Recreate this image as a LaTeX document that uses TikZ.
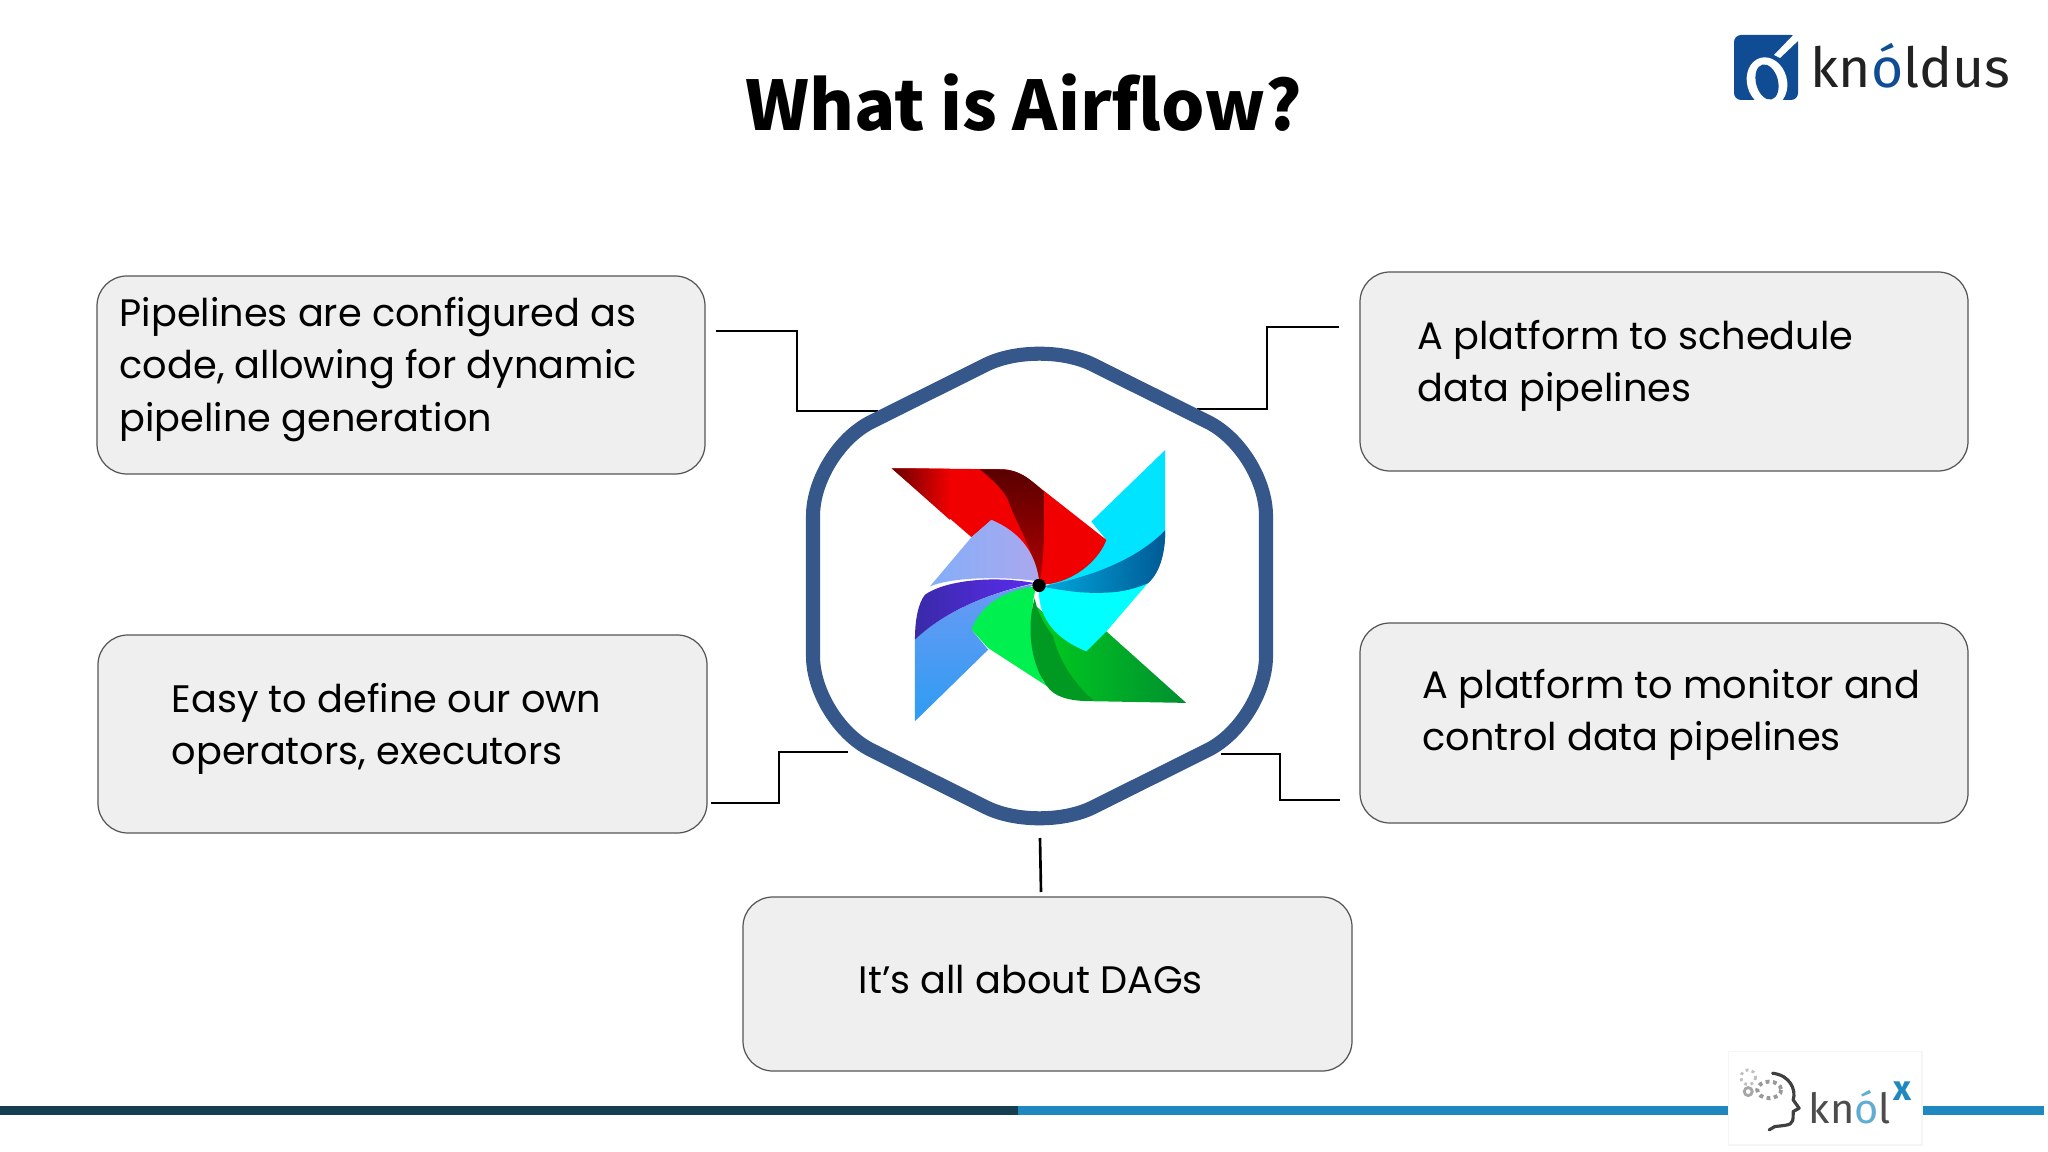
\documentclass[tikz,border=0pt]{standalone}
\usepackage{fontspec}
\setmainfont{Poppins}
\newfontfamily\titlefont{Noto Sans CJK SC}
\newfontfamily\logofont{Fira Sans}
\definecolor{boxfill}{HTML}{EFEFF0}
\definecolor{boxline}{HTML}{555555}
\definecolor{hexblue}{HTML}{35578A}
\definecolor{logoblue}{HTML}{0F4C93}
\definecolor{logodark}{HTML}{222222}
\definecolor{barblue}{HTML}{1E88BF}
\definecolor{bardark}{HTML}{153E53}
\definecolor{pwRed}{HTML}{F00000}
\definecolor{pwRedTip}{HTML}{6A0000}
\definecolor{pwRedDarkA}{HTML}{5A0000}
\definecolor{pwRedDarkB}{HTML}{B00000}
\definecolor{pwCyanTop}{HTML}{00E4FF}
\definecolor{pwCyanLow}{HTML}{00FFFF}
\definecolor{pwBandA}{HTML}{00A8DC}
\definecolor{pwBandB}{HTML}{005A96}
\definecolor{pwPeriA}{HTML}{83AEF9}
\definecolor{pwPeriB}{HTML}{ABA8EE}
\definecolor{pwPurpA}{HTML}{3A2AA8}
\definecolor{pwPurpB}{HTML}{5B2BF0}
\definecolor{pwBlueA}{HTML}{6A9AF5}
\definecolor{pwBlueB}{HTML}{2E9CF2}
\definecolor{pwGreenBright}{HTML}{00F050}
\definecolor{pwGreenDark}{HTML}{009A22}
\definecolor{pwGreenMid}{HTML}{00CC1E}
\definecolor{pwGreenTip}{HTML}{008F30}
\tikzset{
  infobox/.style={draw=boxline,line width=0.35pt,fill=boxfill,rounded corners=8.5pt},
  infotext/.style={anchor=west,align=left,inner sep=0pt,text=black,font=\fontsize{10.88}{14.85}\selectfont},
  conn/.style={draw=black,line width=0.75pt},
}
\begin{document}
\begin{tikzpicture}[x=0.01cm,y=-0.01cm]
\useasboundingbox (0,0) rectangle (2048,1152);
\fill[white] (0,0) rectangle (2048,1152);
% title
\node[anchor=base,inner sep=0pt,font=\titlefont\bfseries\fontsize{19.45}{24}\selectfont] (title) at (1024,131) {What is Airflow?};
% boxes
\path[infobox] (97,276) rectangle (705,474) coordinate (boxTL);
\path[infobox] (1360,272) rectangle (1968,471) coordinate (boxTR);
\path[infobox] (98,635) rectangle (707,833) coordinate (boxML);
\path[infobox] (1360,623) rectangle (1968,823) coordinate (boxMR);
\path[infobox] (743,897) rectangle (1352,1071) coordinate (boxB);
% texts
\node[infotext] (tTL) at (119,369.5) {Pipelines are configured as\\code, allowing for dynamic\\pipeline generation};
\node[infotext] (tTR) at (1417,366) {A platform to schedule\\data pipelines};
\node[infotext] (tML) at (171,728.5) {Easy to define our own\\operators, executors};
\node[infotext] (tMR) at (1422,715) {A platform to monitor and\\control data pipelines};
\node[infotext] (tB) at (858,980) {It’s all about DAGs};
% connectors
\coordinate (a1) at (716,331); \coordinate (m1) at (797,411); \coordinate (b1) at (878,411);
\coordinate (a2) at (1339,327); \coordinate (m2) at (1267,409); \coordinate (b2) at (1197,409);
\coordinate (a3) at (711,803); \coordinate (m3) at (779,752); \coordinate (b3) at (848,752);
\coordinate (a4) at (1340,800); \coordinate (m4) at (1280,754); \coordinate (b4) at (1221,754);
\coordinate (a5) at (1040,838); \coordinate (b5) at (1041,892);
\draw[conn] (a1) -| (m1) -- (b1);
\draw[conn] (a2) -| (m2) -- (b2);
\draw[conn] (a3) -| (m3) -- (b3);
\draw[conn] (a4) -| (m4) -- (b4);
\draw[conn] (a5) -- (b5);
% hexagon
\draw[hexblue,line width=4pt,fill=white] (985.8,364.8) .. controls (1015.3,350) and (1063.7,350) .. (1093.2,364.8)
 -- (1207.9,422) .. controls (1239.9,438) and (1266,480.2) .. (1266,516)
 -- (1266,656) .. controls (1266,691.8) and (1239.9,734) .. (1207.9,750)
 -- (1093.2,807.2) .. controls (1063.7,822) and (1015.3,822) .. (985.8,807.2)
 -- (871.1,750) .. controls (839.1,734) and (813,691.8) .. (813,656)
 -- (813,516) .. controls (813,480.2) and (839.1,438) .. (871.1,422) -- cycle;
% pinwheel
\begin{scope}[shift={(880,440)},x=0.003333cm,y=-0.003333cm]
% blue blade
\shade[top color=pwBlueA,bottom color=pwBlueB]
 (105,845) -- (105,600) .. controls (200,510) and (330,460) .. (465,432) -- (275,570) -- (325,630) -- cycle;
% cyan top
\fill[pwCyanTop] (635,245) -- (857,30) -- (857,272) .. controls (770,360) and (640,410) .. (500,440) -- (680,300) -- cycle;
% cyan lower, under the band
\fill[pwCyanLow] (478,440) -- (805,425) -- (680,575) -- (620,635) .. controls (510,590) and (475,520) .. (478,440) -- cycle;
% blue band of cyan blade
\shade[left color=pwBandA,right color=pwBandB]
 (490,440) .. controls (640,410) and (770,360) .. (857,272) .. controls (857,340) and (840,400) .. (805,430)
 .. controls (720,470) and (600,465) .. (490,440) -- cycle;
% red blade
\fill[pwRed] (35,85) -- (370,88) .. controls (420,92) and (445,115) .. (470,135) -- (680,300)
 .. controls (665,345) and (600,425) .. (490,435) -- (400,300) -- (335,240) -- (275,292) -- cycle;
\shade[left color=pwRedTip,right color=pwRed] (35,85) -- (210,86) -- (210,240) -- cycle;
\shade[top color=pwRedDarkA,bottom color=pwRedDarkB]
 (300,88) -- (370,88) .. controls (420,92) and (445,115) .. (470,135) -- (492,155)
 .. controls (495,250) and (495,340) .. (480,425) .. controls (465,340) and (400,230) .. (385,180) .. controls (370,150) and (340,120) .. (300,88) -- cycle;
% periwinkle
\shade[left color=pwPeriA,right color=pwPeriB]
 (150,440) -- (275,292) -- (335,240) .. controls (430,280) and (470,350) .. (478,425) .. controls (380,410) and (220,410) .. (150,440) -- cycle;
% purple
\shade[right color=pwPurpB,left color=pwPurpA]
 (135,465) .. controls (190,425) and (330,405) .. (465,430)
 .. controls (330,460) and (200,510) .. (105,600) .. controls (105,540) and (115,490) .. (135,465) -- cycle;
% green
\shade[left color=pwGreenMid,right color=pwGreenTip] (470,500) -- (510,745) -- (645,785) -- (920,790) -- (680,575) -- (620,635) -- cycle;
\fill[pwGreenBright] (275,570) .. controls (300,500) and (370,450) .. (470,440) .. controls (450,500) and (450,620) .. (490,725) -- (510,745) -- (325,625) -- cycle;
\fill[pwGreenDark] (465,475) .. controls (440,560) and (450,680) .. (510,750) .. controls (540,780) and (590,785) .. (645,785)
 .. controls (590,740) and (540,670) .. (520,590) .. controls (490,550) and (470,510) .. (465,475) -- cycle;
% cyan lower again, above the green
\fill[pwCyanLow] (478,445) -- (720,460) -- (805,430) -- (680,575) -- (620,635) .. controls (510,590) and (475,520) .. (478,445) -- cycle;
\shade[left color=pwBandA,right color=pwBandB]
 (490,440) .. controls (640,410) and (770,360) .. (857,272) .. controls (857,340) and (840,400) .. (805,430)
 .. controls (720,470) and (600,465) .. (490,440) -- cycle;
\fill[black] (478,437) circle[radius=20];
\end{scope}
% bottom bar
\fill[bardark] (0,1106) rectangle (1018,1115);
\fill[barblue] (1018,1106) rectangle (1729,1115);
\fill[barblue] (1922,1106) rectangle (2044,1115);
% knoldus logo
\fill[logoblue,rounded corners=2pt] (1734,35) rectangle (1798,100);
\begin{scope}
\clip[rounded corners=2pt] (1734,35) rectangle (1798,100);
\fill[white,rotate around={15:(1767,82)}] (1767,82) ellipse[x radius=20,y radius=25];
\fill[logoblue,rotate around={15:(1767,82)}] (1767,82) ellipse[x radius=11,y radius=18];
\end{scope}
\fill[white] (1774,55) -- (1798,30) -- (1800,39) -- (1780,58) -- cycle;
\node[anchor=base west,inner sep=0pt,font=\logofont\fontsize{15.7}{20}\selectfont,text=logodark] (knoldus) at (1810,88) {kn\textcolor{logoblue}{ó}ldus};
% knolx logo
\begin{scope}[shift={(1680,1030)},x=0.003333cm,y=-0.003333cm]
\draw[black!4,fill=white] (146,65) rectangle (727,345);
\draw[black!25,line width=0.8pt,densely dotted] (205,142) circle[radius=22];
\draw[black!35,line width=0.8pt] (205,185) circle[radius=12];
\draw[black!40,line width=1.1pt,densely dotted] (268,180) ellipse[x radius=36,y radius=25];
\draw[black!75,line width=0.9pt,line cap=round,line join=round] (278,130) .. controls (330,135) and (350,180) .. (340,210) -- (358,235) -- (340,245) -- (340,255) .. controls (340,285) and (335,285) .. (285,290) -- (268,300);
\node[anchor=base west,inner sep=0pt,font=\logofont\fontsize{11.8}{15}\selectfont,text=black!70] (knolx) at (385,280) {kn\textcolor{barblue!70}{ó}l};
\node[anchor=base west,inner sep=0pt,font=\logofont\bfseries\fontsize{10}{12}\selectfont,text=barblue] (xmark) at (640,212) {x};
\end{scope}
\end{tikzpicture}
\end{document}
